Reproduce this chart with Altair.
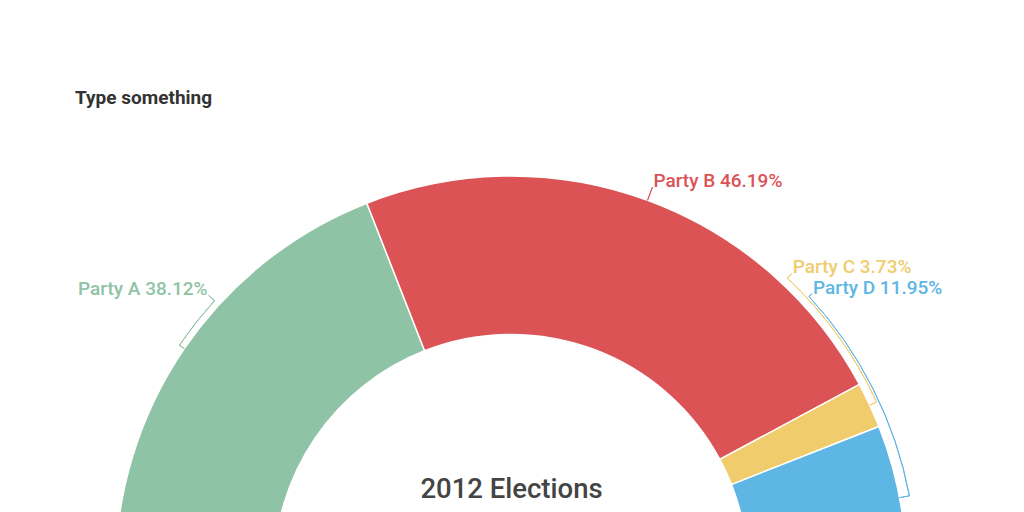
import math
import altair as alt
import pandas as pd

# ---- data ----
parties = ["Party A", "Party B", "Party C", "Party D"]
shares = [38.12, 46.19, 3.73, 11.95]
colors = ["#8FC3A6", "#DC5356", "#F0CC6C", "#5EB6E4"]
label_angle_deg = [-47.6, 20.2, 43.3, 47.3]      # where each leader line meets its label
bracket_radius = [401.5, 398.0, 403.0, 405.5]    # radius of each bracket arc
chart_title = ["Type something"]
center_text = ["2012 Elections"]

# ---- geometry ----
CX, CY = 503, 563.5
R_OUT, R_IN = 395.5, 237
R_LABEL = 409.5
FONT = "Roboto"

df = pd.DataFrame({"party": parties, "share": shares, "order": list(range(len(parties)))})
df["label"] = [f"{p} {s:.2f}%" for p, s in zip(parties, shares)]
total = df["share"].sum()
cum = df["share"].cumsum()
df["mid"] = (-90 + 180 * (cum - df["share"] / 2) / total) * math.pi / 180
df["lab"] = [a * math.pi / 180 for a in label_angle_deg]
df["rb"] = bracket_radius
df["rout"] = R_OUT
df["rlab"] = R_LABEL

color = alt.Color("party:N", scale=alt.Scale(domain=parties, range=colors), legend=None)
cx = alt.value(CX)
cy = alt.value(CY)

base = alt.Chart(df)

arcs = base.mark_arc(innerRadius=R_IN, outerRadius=R_OUT, stroke="white", strokeWidth=1.5).encode(
    theta=alt.Theta("share:Q", stack=True, scale=alt.Scale(range=[-math.pi / 2, math.pi / 2])),
    color=color,
    order=alt.Order("order:Q"),
    x=cx, y=cy,
)

line_mark = dict(filled=False, strokeWidth=1)

radial = base.mark_arc(**line_mark).encode(
    theta=alt.Theta("lab:Q", scale=None), theta2="lab:Q",
    radius=alt.Radius("rlab:Q", scale=None), radius2="rb:Q",
    stroke=color, x=cx, y=cy,
)
bracket = base.mark_arc(**line_mark).encode(
    theta=alt.Theta("lab:Q", scale=None), theta2="mid:Q",
    radius=alt.Radius("rb:Q", scale=None), radius2="rb:Q",
    stroke=color, x=cx, y=cy,
)
tick = base.mark_arc(**line_mark).encode(
    theta=alt.Theta("mid:Q", scale=None), theta2="mid:Q",
    radius=alt.Radius("rb:Q", scale=None), radius2="rout:Q",
    stroke=color, x=cx, y=cy,
)

label_style = dict(baseline="alphabetic", fontSize=19, fontWeight=500, font=FONT, radius=R_LABEL)

labels_right = base.transform_filter(alt.datum.lab < 0).mark_text(
    align="right", dx=-1, **label_style
).encode(theta=alt.Theta("lab:Q", scale=None), text="label:N", color=color, x=cx, y=cy)

labels_left = base.transform_filter(alt.datum.lab >= 0).mark_text(
    align="left", dx=1, **label_style
).encode(theta=alt.Theta("lab:Q", scale=None), text="label:N", color=color, x=cx, y=cy)

title = alt.Chart(pd.DataFrame({"t": chart_title})).mark_text(
    align="left", baseline="alphabetic", fontSize=19, fontWeight="bold", font=FONT, color="#333333"
).encode(text="t:N", x=alt.value(67), y=alt.value(96))

center = alt.Chart(pd.DataFrame({"t": center_text})).mark_text(
    align="center", baseline="alphabetic", fontSize=27.5, fontWeight=500, font=FONT, color="#444444"
).encode(text="t:N", x=alt.value(503.5), y=alt.value(489.5))

chart = alt.layer(arcs, radial, bracket, tick, labels_right, labels_left, title, center).resolve_scale(
    theta="independent", radius="independent"
).properties(
    width=1008, height=504, autosize=alt.AutoSizeParams(type="none"), padding=0
).configure_view(stroke=None)

chart.save("out.html", embed_options={"renderer": "svg", "actions": False})
